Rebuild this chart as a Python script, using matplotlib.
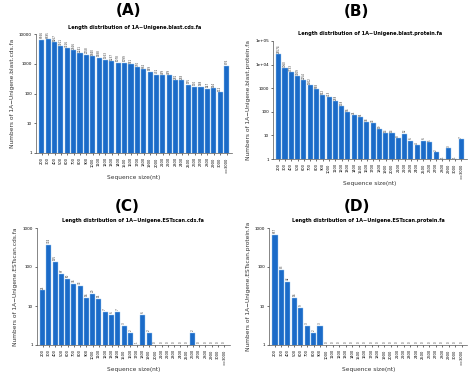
import numpy as np
import matplotlib
matplotlib.use("Agg")
import matplotlib.pyplot as plt

# size bins shared by all four panels
sizes = [str(s) for s in range(200, 3001, 100)] + [">=3000"]

# counts (log scale)
blast_cds = [6366, 6695, 5267, 3911, 3316, 2926, 2241, 2058, 1840, 1588, 1363,
             1237, 1078, 1099, 951, 770, 662, 549, 431, 409, 409, 281, 283,
             195, 170, 168, 147, 154, 112, 876]
blast_protein = [26574, 7060, 4733, 3309, 2254, 1302, 908, 512, 413, 288, 178,
                 96, 74, 61, 38, 33, 19, 13, 13, 8, 12, 6, 4, 6, 5, 2, 1, 3, 1, 7]
estscan_cds = [25, 374, 135, 67, 50, 36, 33, 16, 20, 15, 7, 6, 7, 3, 2, 1, 6, 2,
               0, 0, 0, 0, 0, 0, 2, 0, 0, 0, 0, 0]
estscan_protein = [657, 83, 42, 16, 9, 3, 2, 3, 0, 0, 0, 0, 0, 0, 0, 0, 0, 0,
                   0, 0, 0, 0, 0, 0, 0, 0, 0, 0, 0, 0]

titles = ["Length distribution of 1A\u2212Unigene.blast.cds.fa",
          "Length distribution of 1A\u2212Unigene.blast.protein.fa",
          "Length distribution of 1A\u2212Unigene.ESTscan.cds.fa",
          "Length distribution of 1A\u2212Unigene.ESTscan.protein.fa"]
ylabels = ["Numbers of 1A\u2212Unigene.blast.cds.fa",
           "Numbers of 1A\u2212Unigene.blast.protein.fa",
           "Numbers of 1A\u2212Unigene.ESTscan.cds.fa",
           "Numbers of 1A\u2212Unigene.ESTscan.protein.fa"]
letters = ["(A)", "(B)", "(C)", "(D)"]
ytop = [10000, 100000, 1000, 1000]
yticklabs = [["1", "10", "100", "1000", "10000"],
             ["1", "10", "100", "1000", "1e+04", "1e+05"],
             ["1", "10", "100", "1000"],
             ["1", "10", "100", "1000"]]
data = [blast_cds, blast_protein, estscan_cds, estscan_protein]

# axes boxes in figure fractions [left, bottom, width, height]
boxes = [[0.076, 0.592, 0.414, 0.317],
         [0.576, 0.576, 0.409, 0.315],
         [0.078, 0.08, 0.407, 0.312],
         [0.568, 0.08, 0.418, 0.312]]
letter_pos = [(0.272, 0.972), (0.753, 0.968), (0.268, 0.449), (0.753, 0.449)]

bar_color = "#1b6bc8"

fig = plt.figure(figsize=(4.74, 3.75), dpi=100)
x = np.arange(len(sizes))

for i in range(4):
    ax = fig.add_axes(boxes[i])
    vals = np.array(data[i], dtype=float)
    ax.set_yscale("log")
    heights = np.where(vals > 0, vals, np.nan)
    ax.bar(x, heights, width=0.8, color=bar_color, edgecolor="#9cc8f0",
           linewidth=0.3)
    for xi, v in zip(x, data[i]):
        ypos = max(v, 1) * 1.12
        ax.text(xi, ypos, str(v), rotation=90, ha="center", va="bottom",
                fontsize=2.0, color="#333333")
    ax.set_ylim(1, ytop[i])
    ax.set_xlim(-0.9, len(sizes) - 0.1)
    ticks = [10 ** k for k in range(len(yticklabs[i]))]
    ax.set_yticks(ticks)
    ax.set_yticklabels(yticklabs[i], fontsize=3.0)
    ax.minorticks_off()
    ax.set_xticks(x)
    ax.set_xticklabels(sizes, rotation=90, fontsize=2.6)
    ax.tick_params(length=1.5, width=0.4, pad=1.5)
    for s in ["top", "right"]:
        ax.spines[s].set_visible(False)
    for s in ["left", "bottom"]:
        ax.spines[s].set_linewidth(0.5)
        ax.spines[s].set_color("#555555")
    ax.set_title(titles[i], fontsize=3.6, fontweight="bold", pad=4)
    ax.set_xlabel("Sequence size(nt)", fontsize=4.2, labelpad=2, color="#333333")
    ax.set_ylabel(ylabels[i], fontsize=4.2, labelpad=3, color="#333333")
    fig.text(letter_pos[i][0], letter_pos[i][1], letters[i], fontsize=11,
             fontweight="bold", ha="center", va="center")

fig.savefig("out.png", dpi=100)
